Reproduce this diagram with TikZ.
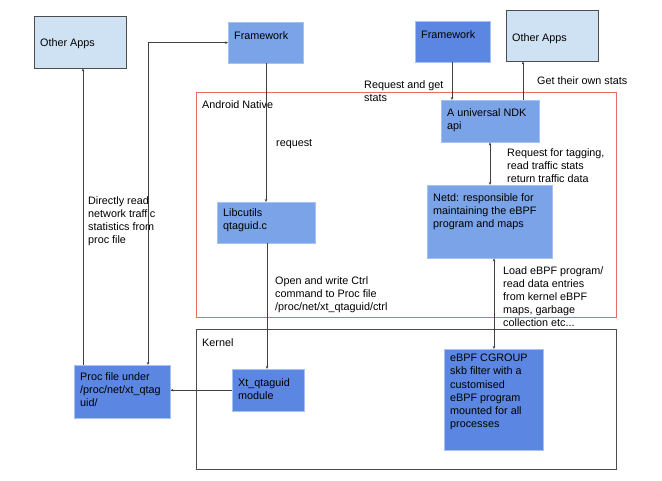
\documentclass[tikz,border=0pt]{standalone}
\usepackage{fontspec}
\setmainfont{Liberation Sans}
\usetikzlibrary{arrows.meta}
\definecolor{appfill}{HTML}{CFE2F3}
\definecolor{midblue}{HTML}{7BA3E8}
\definecolor{darkblue}{HTML}{5B87E3}
\definecolor{edgeblue}{HTML}{A4C2F4}
\definecolor{redline}{HTML}{EA6B66}
\tikzset{
  box/.style={rectangle,anchor=north west,inner sep=0pt},
  app/.style={box,fill=appfill,draw=black!70},
  mid/.style={box,fill=midblue,draw=edgeblue},
  dark/.style={box,fill=darkblue,draw=edgeblue},
  txt/.style={anchor=north west,align=left,inner sep=0pt,yshift=-2pt,font=\fontsize{10.8}{13.2}\selectfont},
  arr/.style={draw=black!75,-{Stealth[length=3pt,width=2.5pt]}},
  darr/.style={draw=black!75,{Stealth[length=3pt,width=2.5pt]}-{Stealth[length=3pt,width=2.5pt]}}
}
\begin{document}
\begin{tikzpicture}[x=1pt,y=-1pt]
            \useasboundingbox (0,0) rectangle (662,481);
            % Regions
            \node[box,draw=redline,minimum width=420pt,minimum height=225pt] (native) at (196,92){};
            \node[box,draw=black!70,minimum width=420pt,minimum height=140pt] (kernel) at (196,329){};
            \node[txt] (nativet) at (202,98){Android Native};
            \node[txt] (kernelt) at (202,336){Kernel};
            % Nodes
            \node[app,minimum width=92pt,minimum height=52pt] (appsl) at (34,16){};
            \node[mid,minimum width=75pt,minimum height=41pt] (fwl) at (228,22){};
            \node[dark,minimum width=75pt,minimum height=41pt] (fwr) at (415,21){};
            \node[app,minimum width=92pt,minimum height=51pt] (appsr) at (506,10){};
            \node[mid,minimum width=98pt,minimum height=42pt] (ndk) at (441,100){};
            \node[mid,minimum width=98pt,minimum height=41pt] (libc) at (217,202){};
            \node[mid,minimum width=125pt,minimum height=73pt] (netd) at (427,185){};
            \node[dark,minimum width=96pt,minimum height=53pt] (proc) at (74,365){};
            \node[dark,minimum width=72pt,minimum height=42pt] (xt) at (232,369){};
            \node[dark,minimum width=99pt,minimum height=101pt] (ebpf) at (444,349){};
            % Texts
            \node[txt] (appslt) at (40,36){Other Apps};
            \node[txt] (fwlt) at (234,29){Framework};
            \node[txt] (fwrt) at (421,28){Framework};
            \node[txt] (appsrt) at (512,31){Other Apps};
            \node[txt] (ndkt) at (447,106){A universal NDK\\api};
            \node[txt] (libct) at (223,206){Libcutils\\qtaguid.c};
            \node[txt] (netdt) at (433,191){Netd: responsible for\\maintaining the eBPF\\program and maps};
            \node[txt] (proct) at (80,370){Proc file under\\/proc/net/xt\_qtag\\uid/};
            \node[txt] (xtt) at (238,376){Xt\_qtaguid\\module};
            \node[txt] (ebpft) at (450,352){eBPF CGROUP\\skb filter with a\\customised\\eBPF program\\mounted for all\\processes};
            % Labels
            \node[txt] (readl) at (88,194){Directly read\\network traffic\\statistics from\\proc file};
            \node[txt] (reql) at (276,137){request};
            \node[txt] (ctrll) at (275,274){Open and write Ctrl\\command to Proc file\\/proc/net/xt\_qtaguid/ctrl};
            \node[txt] (getl) at (364,78){Request and get\\stats};
            \node[txt] (ownl) at (537,74){Get their own stats};
            \node[txt] (tagl) at (507,146){Request for tagging,\\read traffic stats\\return traffic data};
            \node[txt] (loadl) at (503,264){Load eBPF program/\\read data entries\\from kernel eBPF\\maps, garbage\\collection etc...};
            % Edges
            \draw[arr] (proc.north west) ++(9,0) coordinate (p1) -- (p1 |- appsl.south);
            \draw[darr] (proc.north west) ++(74,0) coordinate (p2) -- (p2 |- fwl.west) -- (fwl.west);
            \draw[arr] (fwl.south west) ++(38,0) coordinate (f1) -- (f1 |- libc.north);
            \draw[arr] (libc.south west) ++(50,0) coordinate (l1) -- (l1 |- xt.north);
            \draw[arr] (xt.west) -- (xt.west -| proc.east);
            \draw[arr] (fwr.south west) ++(37,0) coordinate (r1) -- (r1 |- ndk.north);
            \draw[arr] (ndk.north west) ++(82,0) coordinate (n1) -- (n1 |- appsr.south);
            \draw[darr] (ndk.south west) ++(49,0) coordinate (n2) -- (n2 |- netd.north);
            \draw[darr] (netd.south west) ++(67,0) coordinate (d1) -- (d1 |- ebpf.north);
        \end{tikzpicture}
\end{document}
